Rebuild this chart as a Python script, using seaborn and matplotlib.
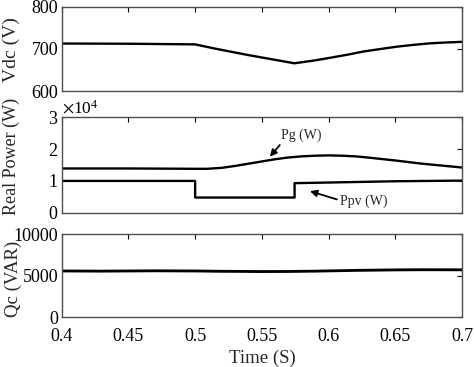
import numpy as np
import pandas as pd
import matplotlib
matplotlib.use('Agg')
import matplotlib.pyplot as plt
import seaborn as sns

# DC link voltage (V)
t_vdc = [0.40, 0.45, 0.50, 0.514, 0.539, 0.5743, 0.59, 0.601, 0.615, 0.626, 0.64,
         0.651, 0.664, 0.676, 0.688, 0.70]
vdc = [713, 712.5, 711, 701.5, 686, 666, 673, 679, 687, 694, 700.5,
       705.5, 710, 713.5, 715.5, 717]

# grid power Pg (W)
t_pg = [0.40, 0.45, 0.50, 0.509, 0.52, 0.53, 0.54, 0.55, 0.56, 0.57, 0.58, 0.59, 0.60,
        0.61, 0.62, 0.63, 0.64, 0.65, 0.66, 0.67, 0.68, 0.69, 0.70]
pg = [1.39e4, 1.39e4, 1.38e4, 1.38e4, 1.41e4, 1.47e4, 1.54e4, 1.61e4, 1.68e4, 1.735e4,
      1.77e4, 1.79e4, 1.80e4, 1.79e4, 1.77e4, 1.73e4, 1.685e4, 1.64e4, 1.59e4, 1.54e4,
      1.50e4, 1.46e4, 1.42e4]

# PV power Ppv (W), step change
t_ppv = [0.40, 0.50, 0.50, 0.5745, 0.5745, 0.60, 0.65, 0.70]
ppv = [1.0e4, 1.0e4, 0.48e4, 0.48e4, 0.93e4, 0.95e4, 0.99e4, 1.01e4]

# capacitor reactive power Qc (VAR)
t_qc = [0.40, 0.43, 0.47, 0.50, 0.52, 0.55, 0.57, 0.59, 0.62, 0.65, 0.67, 0.70]
qc = [5560, 5540, 5580, 5560, 5520, 5490, 5500, 5540, 5630, 5690, 5710, 5700]

xticks = [0.4, 0.45, 0.5, 0.55, 0.6, 0.65, 0.7]
xtick_labels = ['0.4', '0.45', '0.5', '0.55', '0.6', '0.65', '0.7']

sns.set_style('white')
plt.rcParams['font.family'] = ['Liberation Serif', 'DejaVu Serif']
plt.rcParams['mathtext.fontset'] = 'stix'

fig = plt.figure(figsize=(4.74, 3.67), dpi=100)
left, width = 0.130, 0.845
ax1 = fig.add_axes([left, 0.752, width, 0.229])
ax2 = fig.add_axes([left, 0.420, width, 0.261])
ax3 = fig.add_axes([left, 0.136, width, 0.226])

lw = 1.7
sns.lineplot(x=t_vdc, y=vdc, ax=ax1, color='black', lw=lw, estimator=None, sort=False)
sns.lineplot(x=t_pg, y=pg, ax=ax2, color='black', lw=lw, estimator=None, sort=False)
sns.lineplot(x=t_ppv, y=ppv, ax=ax2, color='black', lw=lw, estimator=None, sort=False)
sns.lineplot(x=t_qc, y=qc, ax=ax3, color='black', lw=lw * 1.2, estimator=None, sort=False)

ax1.set_ylim(600, 800)
ax1.set_yticks([600, 700, 800])
ax2.set_ylim(0, 3e4)
ax2.set_yticks([0, 1e4, 2e4, 3e4])
ax2.ticklabel_format(axis='y', style='sci', scilimits=(0, 0), useMathText=True)
ax2.yaxis.get_offset_text().set_fontsize(12.5)
ax3.set_ylim(0, 10000)
ax3.set_yticks([0, 5000, 10000])

for ax in (ax1, ax2, ax3):
    ax.set_xlim(0.4, 0.7)
    ax.set_xticks(xticks)
    ax.tick_params(direction='in', length=3.5, width=0.8, top=True, right=True,
                   labelsize=13, pad=2.5, colors='black')
    for s in ax.spines.values():
        s.set_color('0.3')
        s.set_linewidth(1.0)

ax1.set_xticklabels([])
ax2.set_xticklabels([])
ax3.set_xticklabels(xtick_labels)
ax3.tick_params(axis='x', pad=8)

ax1.set_ylabel('Vdc (V)', fontsize=14)
ax2.set_ylabel('Real Power (W)', fontsize=13)
ax3.set_ylabel('Qc (VAR)', fontsize=13.5)
ax1.yaxis.set_label_coords(-0.103, 0.494)
ax2.yaxis.set_label_coords(-0.103, 0.585)
ax3.yaxis.set_label_coords(-0.100, 0.46)
ax3.set_xlabel('Time (S)', fontsize=13.5, labelpad=3)

arrow = dict(arrowstyle='-|>', color='black', lw=1.3, mutation_scale=10,
             shrinkA=0, shrinkB=0)
ax2.annotate('Pg (W)', xy=(0.556, 1.76e4), xytext=(0.564, 2.44e4),
             fontsize=10, ha='left', va='center',
             arrowprops=dict(arrow, relpos=(0.05, 0.0)))
ax2.annotate('Ppv (W)', xy=(0.586, 0.68e4), xytext=(0.6087, 0.37e4),
             fontsize=10, ha='left', va='center',
             arrowprops=dict(arrow, relpos=(-0.05, 0.6)))

fig.savefig('out.png', dpi=100)
